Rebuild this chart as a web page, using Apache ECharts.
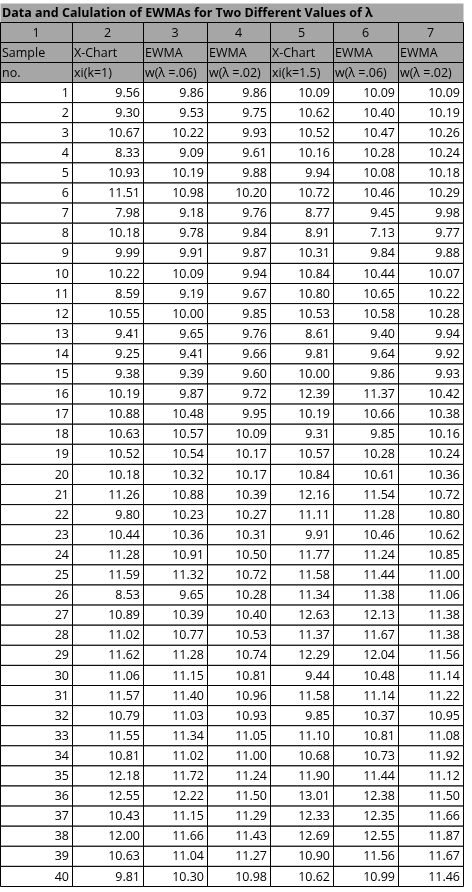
<!DOCTYPE html><html><head><meta charset="utf-8"><script src="https://cdn.jsdelivr.net/npm/echarts@6/dist/echarts.min.js"></script>
<style>html,body{margin:0;padding:0;background:#fff}#c{width:472px;height:892px}</style></head><body><div id="c"></div><script>
const title = "Data and Calulation of EWMAs for Two Different Values of λ";
const colNumbers = ["1","2","3","4","5","6","7"];
const headerRow1 = ["Sample","X-Chart","EWMA","EWMA","X-Chart","EWMA","EWMA"];
const headerRow2 = ["no.","xi(k=1)","w(λ =.06)","w(λ =.02)","xi(k=1.5)","w(λ =.06)","w(λ =.02)"];
const sampleNo = Array.from({length:40},(_, i)=>i+1);
const xiK1 = [9.56,9.30,10.67,8.33,10.93,11.51,7.98,10.18,9.99,10.22,8.59,10.55,9.41,9.25,9.38,10.19,10.88,10.63,10.52,10.18,11.26,9.80,10.44,11.28,11.59,8.53,10.89,11.02,11.62,11.06,11.57,10.79,11.55,10.81,12.18,12.55,10.43,12.00,10.63,9.81];
const ewma1a = [9.86,9.53,10.22,9.09,10.19,10.98,9.18,9.78,9.91,10.09,9.19,10.00,9.65,9.41,9.39,9.87,10.48,10.57,10.54,10.32,10.88,10.23,10.36,10.91,11.32,9.65,10.39,10.77,11.28,11.15,11.40,11.03,11.34,11.02,11.72,12.22,11.15,11.66,11.04,10.30];
const ewma1b = [9.86,9.75,9.93,9.61,9.88,10.20,9.76,9.84,9.87,9.94,9.67,9.85,9.76,9.66,9.60,9.72,9.95,10.09,10.17,10.17,10.39,10.27,10.31,10.50,10.72,10.28,10.40,10.53,10.74,10.81,10.96,10.93,11.05,11.00,11.24,11.50,11.29,11.43,11.27,10.98];
const xiK15 = [10.09,10.62,10.52,10.16,9.94,10.72,8.77,8.91,10.31,10.84,10.80,10.53,8.61,9.81,10.00,12.39,10.19,9.31,10.57,10.84,12.16,11.11,9.91,11.77,11.58,11.34,12.63,11.37,12.29,9.44,11.58,9.85,11.10,10.68,11.90,13.01,12.33,12.69,10.90,10.62];
const ewma2a = [10.09,10.40,10.47,10.28,10.08,10.46,9.45,7.13,9.84,10.44,10.65,10.58,9.40,9.64,9.86,11.37,10.66,9.85,10.28,10.61,11.54,11.28,10.46,11.24,11.44,11.38,12.13,11.67,12.04,10.48,11.14,10.37,10.81,10.73,11.44,12.38,12.35,12.55,11.56,10.99];
const ewma2b = [10.09,10.19,10.26,10.24,10.18,10.29,9.98,9.77,9.88,10.07,10.22,10.28,9.94,9.92,9.93,10.42,10.38,10.16,10.24,10.36,10.72,10.80,10.62,10.85,11.00,11.06,11.38,11.38,11.56,11.14,11.22,10.95,11.08,11.92,11.12,11.50,11.66,11.87,11.67,11.46];

const colEdges=[0,72,143,207,270,333,398,463];
const titleTop=3, headTop=22, rowH=20.1;
const cells=[];
cells.push({x0:0,x1:463,y0:titleTop,y1:headTop,text:title,bold:true,align:'left',bg:'#a6a6a6',border:false});
const hdr=[colNumbers,headerRow1,headerRow2];
hdr.forEach((r,ri)=>r.forEach((t,ci)=>cells.push({x0:colEdges[ci],x1:colEdges[ci+1],y0:headTop+ri*20,y1:headTop+(ri+1)*20,text:t,align:ri==0?'center':'left',bg:'#a6a6a6',border:true})));
const cols=[sampleNo,xiK1,ewma1a,ewma1b,xiK15,ewma2a,ewma2b];
const dataTop=headTop+60;
for(let r=0;r<40;r++)for(let c=0;c<7;c++){
 const v=cols[c][r];
 cells.push({x0:colEdges[c],x1:colEdges[c+1],y0:dataTop+r*rowH,y1:dataTop+(r+1)*rowH,text:c==0?String(v):v.toFixed(2),align:'right',bg:'#fff',border:true});
}
const chart=echarts.init(document.getElementById('c'));
chart.setOption({animation:false,
 grid:{left:0,top:0,right:0,bottom:0},
 xAxis:{type:'value',min:0,max:472,show:false},
 yAxis:{type:'value',min:0,max:892,inverse:true,show:false},
 series:[{type:'custom',data:cells.map((c,i)=>[c.x0,c.y0,c.x1,c.y1,i]),
  renderItem:(p,api)=>{
   const c=cells[api.value(4)];
   const a=api.coord([api.value(0),api.value(1)]), b=api.coord([api.value(2),api.value(3)]);
   const w=b[0]-a[0], h=b[1]-a[1];
   const tx=c.align=='left'?a[0]+2:c.align=='right'?b[0]-3:a[0]+w/2;
   return {type:'group',children:[
    {type:'rect',shape:{x:a[0]+0.5,y:a[1]+0.5,width:w,height:h},style:{fill:c.bg,stroke:c.border?'#000':null,lineWidth:1}},
    {type:'text',style:{x:tx,y:a[1]+h/2+1,text:c.text,align:c.align,verticalAlign:'middle',font:(c.bold?'bold ':'')+'12.5px "Open Sans", Calibri, sans-serif',fill:'#000'}}
   ]};
  }}]
});
</script></body></html>
